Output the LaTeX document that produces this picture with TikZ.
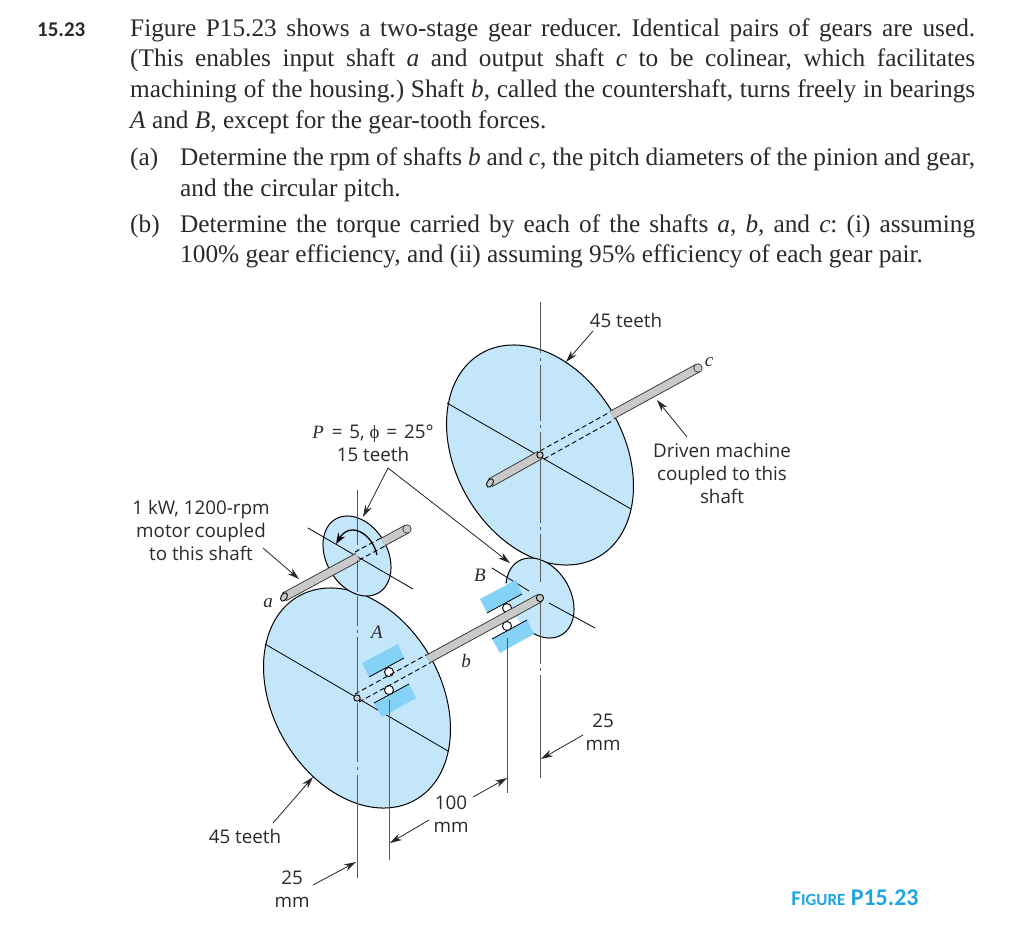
\documentclass[tikz,border=0pt]{standalone}
\usepackage{fontspec}
\setmainfont{Liberation Serif}
\newfontfamily\labelfont{Open Sans}
\newfontfamily\headfont{Carlito}
\usetikzlibrary{arrows.meta}
\definecolor{gearBlue}{HTML}{C4E6FA}
\definecolor{blockBlue}{HTML}{84D2F6}
\definecolor{shaftGray}{HTML}{C9C9C9}
\definecolor{inkDark}{HTML}{2A2A2A}
\definecolor{headBlue}{HTML}{1FA5E0}
\newcommand{\serifline}[3]{\node[bodyStyle] (#1) at #2 {#3};}
\newcommand{\fullline}[4]{\node[bodyStyle] (#1) at #2 {\makebox[#3pt][s]{#4}};}
\frenchspacing
\begin{document}
\begin{tikzpicture}[x = 1pt, y = -1pt]
	\tikzstyle{bodyStyle} = [anchor = base west, inner sep = 0pt, font = \fontsize{25.3}{28}\selectfont\frenchspacing, text = inkDark]
	\tikzstyle{labelStyle} = [inner sep = 0pt, align = center, font = \labelfont\fontsize{18.8}{23}\selectfont, text = inkDark]
	\tikzstyle{letterStyle} = [inner sep = 0pt, font = \itshape\fontsize{19}{20}\selectfont, text = inkDark]
	\tikzstyle{gearStyle} = [fill = gearBlue, draw = black, line width = 1pt]
	\tikzstyle{axisStyle} = [draw = black, line width = 0.8pt]
	\tikzstyle{centerStyle} = [draw = black!65, line width = 0.9pt]
	\tikzstyle{leaderStyle} = [draw = black!85, line width = 0.8pt, -{Stealth[length = 12pt, width = 7pt]}]
	\tikzstyle{hiddenStyle} = [draw = black, line width = 0.9pt, dash pattern = on 5pt off 3pt]
	\tikzstyle{shaftStyle} = [draw = black!80, double = shaftGray, double distance = 7.4pt, line width = 0.9pt]
	\tikzstyle{ballStyle} = [draw = black, fill = white, line width = 0.9pt]
	\useasboundingbox (0, 0) rectangle (1024, 944);
	\fill[white] (0, 0) rectangle (1024, 944);
	\node[inner sep = 0pt, anchor = base west, font = \headfont\bfseries\fontsize{21}{24}\selectfont, text = inkDark] (number) at (37, 37) {15.23};
	\fullline{line0}{(130, 37)}{845}{Figure P15.23 shows a two-stage gear reducer. Identical pairs of gears are used.}
	\fullline{line1}{(130, 67)}{845}{(This enables input shaft \textit{a} and output shaft \textit{c} to be colinear, which facilitates}
	\fullline{line2}{(130, 98)}{845}{machining of the housing.) Shaft \textit{b}, called the countershaft, turns freely in bearings}
	\serifline{line3}{(130, 129)}{\textit{A} and \textit{B}, except for the gear-tooth forces.}
	\serifline{partA}{(130, 166)}{(a)}
	\fullline{line4}{(180, 166)}{795}{Determine the rpm of shafts \textit{b} and \textit{c}, the pitch diameters of the pinion and gear,}
	\serifline{line5}{(180, 196)}{and the circular pitch.}
	\serifline{partB}{(130, 232)}{(b)}
	\fullline{line6}{(180, 232)}{795}{Determine the torque carried by each of the shafts \textit{a}, \textit{b}, and \textit{c}: (i) assuming}
	\serifline{line7}{(180, 262)}{100\% gear efficiency, and (ii) assuming 95\% efficiency of each gear pair.}
	\coordinate (gearC) at (540, 455);
	\coordinate (gearB) at (540, 598);
	\coordinate (gearA) at (357, 698);
	\coordinate (pinion) at (357, 556);
	\draw[gearStyle, rotate around = {-60:(gearC)}] (gearC) ellipse [x radius = 117.4pt, y radius = 84pt];
	\draw[gearStyle, rotate around = {-60:(gearA)}] (gearA) ellipse [x radius = 117.4pt, y radius = 84pt];
	\draw[gearStyle, rotate around = {-60:(pinion)}] (pinion) ellipse [x radius = 42.7pt, y radius = 30.6pt];
	\fill[gearBlue, rotate around = {-60:(gearB)}] (gearB) ellipse [x radius = 42.7pt, y radius = 30.6pt];
	\begin{scope}[shift = {(gearB)}, rotate = -60]
		\draw[line width = 1pt] (309:42.7pt and 30.6pt) arc [start angle = 309, end angle = 586, x radius = 42.7pt, y radius = 30.6pt];
	\end{scope}
	\draw[axisStyle] (447, 403) -- (631, 509);
	\draw[axisStyle] (265, 644) -- (448, 751);
	\draw[axisStyle] (308, 528) -- (413, 589);
	\draw[axisStyle] (492, 568) -- (529, 591);
	\draw[axisStyle] (549, 603) -- (595, 628);
	\foreach \dx/\dy in {0/0, 118/-64} {
		\begin{scope}[shift = {(\dx, \dy)}]
			\fill[blockBlue] (362, 663) -- (398, 644) -- (404, 658) -- (369, 677) -- cycle;
			\fill[blockBlue] (374, 703) -- (409, 684) -- (416, 698) -- (382, 717) -- cycle;
			\draw[axisStyle] (369, 677) -- (404, 658);
			\draw[axisStyle] (374, 703) -- (409, 684);
			\node[circle, ballStyle, minimum size = 9pt, inner sep = 0pt] at (389, 672) {};
			\node[circle, ballStyle, minimum size = 9pt, inner sep = 0pt] at (389, 690) {};
		\end{scope}
	}
	\draw[hiddenStyle] (355, 694) -- (426, 655);
	\draw[hiddenStyle] (359, 702) -- (430, 663);
	\draw[hiddenStyle] (540, 451) -- (610, 412);
	\draw[hiddenStyle] (544, 459) -- (614, 420);
	\draw[hiddenStyle] (355, 552) -- (381, 538);
	\draw[hiddenStyle] (359, 560) -- (385, 546);
	\coordinate (shaftAlow) at (284, 597);
	\coordinate (shaftAhub) at (358, 557);
	\coordinate (shaftAout) at (383, 542);
	\coordinate (shaftAend) at (407, 529);
	\coordinate (shaftBin) at (428, 659);
	\coordinate (shaftClow) at (490, 483);
	\coordinate (shaftCin) at (612, 415);
	\coordinate (shaftCend) at (698, 368);
	\draw[shaftStyle] (shaftAlow) -- (shaftAhub);
	\draw[shaftStyle] (shaftAout) -- (shaftAend);
	\fill[black!80] (shaftAend) circle (4.6pt);
	\fill[shaftGray] (shaftAend) circle (3.7pt);
	\draw[shaftStyle] (shaftBin) -- (gearB);
	\draw[shaftStyle] (shaftClow) -- (gearC);
	\draw[shaftStyle] (shaftCin) -- (shaftCend);
	\fill[black!80] (shaftCend) circle (4.6pt);
	\fill[shaftGray] (shaftCend) circle (3.7pt);
	\draw[fill = shaftGray, line width = 0.9pt, rotate around = {-30:(shaftAlow)}] (shaftAlow) ellipse [x radius = 3pt, y radius = 4.6pt];
	\draw[fill = shaftGray, line width = 0.9pt, rotate around = {-30:(shaftClow)}] (shaftClow) ellipse [x radius = 3pt, y radius = 4.6pt];
	\draw[fill = shaftGray, line width = 0.9pt] (gearB) circle (3.6pt);
	\draw[fill = shaftGray, line width = 0.9pt] (gearC) circle (3.2pt);
	\draw[fill = shaftGray, line width = 0.9pt] (gearA) circle (3.2pt);
	\foreach \ya/\yb in {302/353, 358/361, 365/421, 425/428, 432/451, 460/523, 527/530, 534/582, 603/664, 668/671, 675/778} {
		\draw[centerStyle] (540, \ya) -- (540, \yb);
	}
	\foreach \ya/\yb in {490/545, 549/552, 560/592, 596/626, 630/633, 637/694, 703/762, 767/770, 775/878} {
		\draw[centerStyle] (357, \ya) -- (357, \yb);
	}
	\draw[centerStyle] (389, 700) -- (389, 860);
	\draw[centerStyle] (507, 638) -- (507, 793);
	\coordinate (spinStart) at (377, 555);
	\coordinate (spinEnd) at (336, 544);
	\draw[line width = 1.3pt, -{Stealth[length = 11pt, width = 8pt]}] (spinStart) .. controls (372, 533) and (350, 521) .. (spinEnd);
	\node[labelStyle] (teethC) at (626, 320) {45 teeth};
	\node[letterStyle] (letterC) at (709, 362) {c};
	\node[labelStyle] (driven) at (722, 473) {Driven machine\\coupled to this\\shaft};
	\node[labelStyle] (pinionData) at (373, 443) {{\fontspec{Liberation Serif}\itshape P}\hspace{3pt} = \hspace{2pt}5, {\fontspec{Liberation Serif}ϕ}\hspace{2pt} = \hspace{2pt}25°\\15 teeth};
	\node[labelStyle] (motor) at (201, 530) {1 kW, 1200-rpm\\motor coupled\\to this shaft};
	\node[letterStyle] (letterSa) at (268, 603) {a};
	\node[letterStyle] (letterA) at (377, 632) {A};
	\node[letterStyle] (letterB) at (480, 575) {B};
	\node[letterStyle] (letterSb) at (466, 661) {b};
	\node[labelStyle] (widthB) at (603, 732) {25\\mm};
	\node[labelStyle] (spanAB) at (451, 814) {100\\mm};
	\node[labelStyle] (teethA) at (245, 836) {45 teeth};
	\node[labelStyle] (widthA) at (292, 889) {25\\mm};
	\node[inner sep = 0pt, font = \headfont\bfseries, text = headBlue] (caption) at (855, 898) {\fontsize{21}{20}\selectfont F\fontsize{17}{20}\selectfont IGURE\fontsize{24}{20}\selectfont{} P15.23};
	\coordinate (tipTeethC) at (566, 362);
	\coordinate (tailTeethC) at (593, 331);
	\coordinate (tipDriven) at (657, 400);
	\coordinate (tailDriven) at (687, 437);
	\coordinate (fork) at (388, 468);
	\coordinate (tipPinion) at (363, 517);
	\coordinate (tipGearB) at (510, 563);
	\coordinate (tipMotor) at (299, 579);
	\coordinate (tailMotor) at (263, 548);
	\coordinate (tipTeethA) at (313, 777);
	\coordinate (tailTeethA) at (273, 823);
	\coordinate (tipWidthA) at (356, 862);
	\coordinate (tailWidthA) at (313, 885);
	\coordinate (tipSpanLow) at (390, 843);
	\coordinate (tailSpanLow) at (429, 820);
	\coordinate (tipSpanUp) at (507, 778);
	\coordinate (tailSpanUp) at (473, 797);
	\coordinate (tipWidthB) at (541, 759);
	\coordinate (tailWidthB) at (583, 735);
	\draw[leaderStyle] (tailTeethC) -- (tipTeethC);
	\draw[leaderStyle] (tailDriven) -- (tipDriven);
	\draw[leaderStyle] (fork) -- (tipPinion);
	\draw[leaderStyle] (fork) -- (tipGearB);
	\draw[leaderStyle] (tailMotor) -- (tipMotor);
	\draw[leaderStyle] (tailTeethA) -- (tipTeethA);
	\draw[leaderStyle] (tailWidthA) -- (tipWidthA);
	\draw[leaderStyle] (tailSpanLow) -- (tipSpanLow);
	\draw[leaderStyle] (tailSpanUp) -- (tipSpanUp);
	\draw[leaderStyle] (tailWidthB) -- (tipWidthB);
\end{tikzpicture}
\end{document}
